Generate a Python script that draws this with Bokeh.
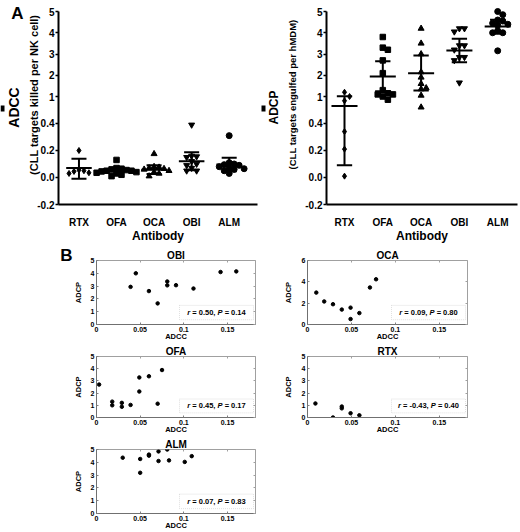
import math
from bokeh.plotting import figure
from bokeh.models import FixedTicker, Label, BoxAnnotation, LinearAxis, Range1d, Spacer
from bokeh.layouts import column, row
from bokeh.embed import file_html
from bokeh.resources import INLINE

FONT = "Liberation Sans"
NB = "\u00a0"

# ---------------- Panel A data ----------------
antibodies = ["RTX", "OFA", "OCA", "OBI", "ALM"]
a_markers = ["diamond", "square", "triangle", "inverted_triangle", "circle"]

adcc_rtx = [0.20, 0.055, 0.035, 0.045, 0.05, 0.03]
adcc_ofa = [0.13, 0.07, 0.065, 0.06, 0.055, 0.05, 0.05, 0.045, 0.04, 0.035, 0.03, 0.02, 0.01]
adcc_oca = [0.175, 0.08, 0.075, 0.07, 0.065, 0.06, 0.05, 0.04, 0.03, 0.01]
adcc_obi = [0.39, 0.16, 0.155, 0.15, 0.12, 0.10, 0.09, 0.07, 0.05, 0.05]
adcc_alm = [0.31, 0.11, 0.10, 0.095, 0.09, 0.08, 0.07, 0.065, 0.06, 0.05, 0.03]
adcc_mean = [0.07, 0.047, 0.057, 0.12, 0.096]
adcc_low = [-0.01, 0.022, 0.025, 0.053, 0.046]
adcc_high = [0.138, 0.072, 0.09, 0.187, 0.146]

adcp_rtx = [1.2, 1.0, 0.8, 0.34, 0.21, 0.01]
adcp_ofa = [3.8, 3.3, 3.2, 2.7, 2.1, 1.3, 1.15, 1.1, 1.1, 1.0, 0.85]
adcp_oca = [4.2, 3.5, 3.0, 2.15, 1.9, 1.6, 1.4, 1.35, 1.05, 0.52]
adcp_obi = [4.2, 4.2, 4.05, 3.4, 3.4, 3.2, 2.85, 2.85, 2.7, 1.65]
adcp_alm = [5.0, 4.85, 4.6, 4.55, 4.45, 4.4, 4.35, 4.1, 4.0, 4.0, 3.15]
adcp_mean = [0.55, 1.94, 2.10, 3.16, 4.29]
adcp_low = [0.09, 1.25, 1.28, 2.61, 3.95]
adcp_high = [1.01, 2.66, 2.93, 3.72, 4.61]

a_ytick_values = [-0.2, 0.0, 0.2, 0.4, 1, 2, 3, 4, 5]
a_ytick_labels = ["-0.2", "0.0", "0.2", "0.4", "1", "2", "3", "4", "5"]

# ---------------- Panel B data ----------------
obi_adcc = [0.039, 0.045, 0.060, 0.070, 0.081, 0.081, 0.091, 0.111, 0.142, 0.160]
obi_adcp = [2.94, 4.00, 2.61, 1.65, 3.36, 3.06, 3.07, 2.81, 4.10, 4.15]
oca_adcc = [0.010, 0.019, 0.029, 0.039, 0.049, 0.049, 0.059, 0.071, 0.078]
oca_adcp = [2.99, 2.16, 1.90, 1.40, 1.58, 0.51, 1.07, 3.47, 4.24]
ofa_adcc = [0.003, 0.018, 0.018, 0.029, 0.029, 0.039, 0.049, 0.049, 0.060, 0.070, 0.075]
ofa_adcp = [2.70, 1.30, 1.00, 1.20, 0.88, 1.03, 3.28, 2.13, 3.38, 1.13, 3.89]
rtx_adcc = [0.009, 0.029, 0.039, 0.039, 0.049, 0.059]
rtx_adcp = [1.15, 0.00, 0.90, 0.75, 0.35, 0.18]
alm_adcc = [0.030, 0.050, 0.050, 0.060, 0.060, 0.071, 0.071, 0.081, 0.083, 0.101, 0.109]
alm_adcp = [4.36, 4.26, 3.18, 4.60, 4.52, 4.85, 4.10, 5.00, 4.15, 4.03, 4.48]

stats_r = {"OBI": "0.50", "OCA": "0.09", "OFA": "0.45", "RTX": "-0.43", "ALM": "0.07"}
stats_p = {"OBI": "0.14", "OCA": "0.80", "OFA": "0.17", "RTX": "0.40", "ALM": "0.83"}

b_xticks = [0, 0.05, 0.1, 0.15]
b_xtick_labels = ["0", "0.05", "0.1", "0.15"]
B_XMAX = 0.182

# broken y axis of panel A: lower segment linear up to BREAK, compressed above
BREAK = 0.525
UPPER = 0.1574


def disp(v):
    return v if v <= BREAK else BREAK + (v - BREAK) * UPPER


def swarm(vals, ypx, xpx, size):
    order = sorted(range(len(vals)), key=lambda i: -vals[i])
    placed = []
    offs = [0.0] * len(vals)
    thr = 0.85 * size
    for i in order:
        y = disp(vals[i]) * ypx
        for k in range(60):
            dx = ((k + 1) // 2) * thr * (1 if k % 2 else -1)
            if all((dx - px) ** 2 + (y - py) ** 2 >= thr ** 2 for px, py in placed):
                break
        placed.append((dx, y))
        offs[i] = dx / xpx
    return offs


def make_label(x, y, text, size, angle=0.0, align="center", baseline="middle", style="bold"):
    return Label(x=x, y=y, text=text, text_font=FONT, text_font_size=f"{size}px",
                 text_font_style=style, angle=angle, text_align=align,
                 text_baseline=baseline, text_color="black")


def add_label(p, *args, where="center", **kw):
    p.add_layout(make_label(*args, **kw), where)


A_H, A_BOTTOM, A_TOP_GAP = 245, 41, 11


def label_fig(W):
    # bare canvas in pixel coordinates (y downward) carrying the texts left of a panel A plot
    fh = A_H - A_BOTTOM
    p = figure(width=W, height=A_H, x_range=Range1d(0, W), y_range=Range1d(fh, 0),
               x_axis_type=None, y_axis_type=None, output_backend="svg", toolbar_location=None,
               min_border_left=0, min_border_right=0, min_border_top=0, min_border_bottom=A_BOTTOM)
    p.outline_line_color = None
    return p


def make_a(groups, mean, low, high, W, frame_left, x_start, sub=None, sub_standoff=0):
    fr = 3
    fw = W - frame_left - fr
    fh = A_H - A_BOTTOM
    cat_px = 38.5
    x_end = x_start + fw / cat_px
    y0, y1 = disp(-0.2), disp(5)
    ypx = (fh - A_TOP_GAP) / (y1 - y0)
    p = figure(width=W, height=A_H, x_range=Range1d(x_start, x_end),
               y_range=Range1d(y0, y1 + A_TOP_GAP / ypx),
               output_backend="svg", toolbar_location=None,
               min_border_left=frame_left, min_border_right=fr, min_border_top=0,
               min_border_bottom=A_BOTTOM)
    p.outline_line_color = None
    p.grid.visible = False

    for i, vals in enumerate(groups):
        offs = swarm(vals, ypx, cat_px, 6)
        p.scatter(x=[i + o for o in offs], y=[disp(v) for v in vals], marker=a_markers[i],
                  size=6 if a_markers[i] != "square" else 5.5, color="black")
    idx = list(range(len(groups)))
    p.segment(x0=idx, y0=[disp(v) for v in low], x1=idx, y1=[disp(v) for v in high],
              line_width=2, line_color="black")
    for arr, hw in ((low, 0.2), (high, 0.2), (mean, 0.34)):
        p.segment(x0=[i - hw for i in idx], y0=[disp(v) for v in arr],
                  x1=[i + hw for i in idx], y1=[disp(v) for v in arr],
                  line_width=2, line_color="black")

    ya = p.yaxis[0]
    ticks = [round(disp(t), 6) for t in a_ytick_values]
    ya.ticker = FixedTicker(ticks=ticks)
    ya.bounds = (y0, y1)
    ya.major_label_overrides = {t: l for t, l in zip(ticks, a_ytick_labels)}
    ya.minor_tick_line_color = None
    ya.major_tick_out = 3
    ya.major_tick_in = 0
    ya.major_tick_line_width = 1.5
    ya.axis_line_width = 2
    ya.major_label_standoff = 1
    ya.major_label_text_font = FONT
    ya.major_label_text_font_style = "bold"
    ya.major_label_text_font_size = "10px"
    ya.major_label_text_color = "black"
    if sub:
        ya.axis_label = sub
        ya.axis_label_text_font = FONT
        ya.axis_label_text_font_style = "bold"
        ya.axis_label_text_font_size = "11px"
        ya.axis_label_text_color = "black"
        ya.axis_label_standoff = sub_standoff

    xa = p.xaxis[0]
    xa.ticker = FixedTicker(ticks=idx)
    xa.major_label_overrides = {i: n for i, n in enumerate(antibodies)}
    xa.minor_tick_line_color = None
    xa.major_tick_line_color = None
    xa.major_tick_out = 0
    xa.axis_line_width = 2
    xa.major_label_standoff = 12
    xa.major_label_text_font = FONT
    xa.major_label_text_font_style = "bold"
    xa.major_label_text_font_size = "10px"
    xa.major_label_text_color = "black"
    xa.axis_label = "Antibody"
    xa.axis_label_text_font = FONT
    xa.axis_label_text_font_style = "bold"
    xa.axis_label_text_font_size = "12px"
    xa.axis_label_text_color = "black"
    xa.axis_label_standoff = -2
    return p


CW = {' ': 0.278, NB: 0.278, '=': 0.584, '.': 0.278, ',': 0.278, '-': 0.333, 'r': 0.389, 'P': 0.667}
for d in "0123456789":
    CW[d] = 0.556


def tw(s, fs):
    return sum(CW[c] for c in s) * fs


def make_b(name, xs, ys, ymax, yticks, frame_left, right_border, H, top, bottom, ylab_standoff,
           letter=None):
    W = 260
    fw = W - frame_left - right_border
    fh = H - top - bottom
    p = figure(width=W, height=H, x_range=Range1d(0, B_XMAX), y_range=Range1d(0, ymax),
               output_backend="svg", toolbar_location=None,
               min_border_left=frame_left, min_border_right=right_border,
               min_border_top=top, min_border_bottom=bottom)
    p.grid.visible = False
    p.outline_line_color = "#a0a0a0"
    p.title.text = name
    p.title.align = "center"
    p.title.text_font = FONT
    p.title.text_font_style = "bold"
    p.title.text_font_size = "10px"
    p.title.text_color = "black"
    p.title.standoff = 0
    p.title.offset = 0
    xpx = fw / B_XMAX
    ypx = fh / ymax

    def xd(px):
        return (px - frame_left) / xpx

    def yd(py):
        return ymax - (py - top) / ypx

    p.scatter(x=xs, y=ys, size=3.5, color="black")

    for ax, tk in ((p.xaxis[0], b_xticks), (p.yaxis[0], yticks)):
        ax.ticker = FixedTicker(ticks=tk)
        ax.minor_tick_line_color = None
        ax.major_tick_in = 2
        ax.major_tick_out = 0
        ax.major_tick_line_color = "#808080"
        ax.axis_line_color = "#707070"
        ax.major_label_standoff = 2
        ax.major_label_text_font = FONT
        ax.major_label_text_font_style = "bold"
        ax.major_label_text_font_size = "7px"
        ax.major_label_text_color = "black"
        ax.axis_label_text_font = FONT
        ax.axis_label_text_font_style = "bold"
        ax.axis_label_text_font_size = "7.5px"
        ax.axis_label_text_color = "black"
    p.xaxis[0].major_label_overrides = {t: l for t, l in zip(b_xticks, b_xtick_labels)}
    p.xaxis[0].axis_label = "ADCC"
    p.xaxis[0].axis_label_standoff = -3
    p.yaxis[0].axis_label = "ADCP"
    p.yaxis[0].axis_label_standoff = ylab_standoff

    for loc, tk in (("above", b_xticks), ("right", yticks)):
        ax = LinearAxis(ticker=FixedTicker(ticks=tk), major_label_text_font_size="1px",
                        major_label_overrides={t: "" for t in tk},
                        major_label_standoff=0, major_tick_in=2, major_tick_out=0,
                        major_tick_line_color="#a0a0a0", minor_tick_line_color=None,
                        axis_line_color=None)
        p.add_layout(ax, loc)

    if letter:
        # placed in the left side panel, where annotations are not clipped to the frame
        add_label(p, xd(66), yd(top - 5), letter, 17, where="left")

    # statistics box
    bw, bh = 74, 15
    br = frame_left + fw - 2
    bb = top + fh - 5
    p.add_layout(BoxAnnotation(left=xd(br - bw), right=xd(br), bottom=yd(bb), top=yd(bb - bh),
                               fill_color=None, line_color="#999999", line_dash="1 1", line_width=1))
    fs = 7.5
    pieces = [("r", "bold italic"), (NB + "=" + NB + stats_r[name] + "," + NB, "bold"),
              ("P", "bold italic"), (NB + "=" + NB + stats_p[name], "bold")]
    total = sum(tw(s, fs) for s, _ in pieces)
    x = br - bw / 2 - total / 2
    ymid = bb - bh / 2
    for s, st in pieces:
        add_label(p, xd(x), yd(ymid), s, fs, align="left", style=st)
        x += tw(s, fs)
    return p


# ---- panel A ----
la1 = label_fig(25)
add_label(la1, 17, 13, "A", 17)
add_label(la1, 13, 107, "ADCC", 14, angle=math.pi / 2)
la1.add_layout(BoxAnnotation(left=0, right=4, top=105, bottom=111, fill_color="black",
                             fill_alpha=1.0, line_color=None))
pa1 = make_a([adcc_rtx, adcc_ofa, adcc_oca, adcc_obi, adcc_alm], adcc_mean, adcc_low, adcc_high,
             235, 28, -0.545, sub=NB * 5 + "(CLL targets killed per NK cell)", sub_standoff=-6)

la2 = label_fig(42)
add_label(la2, 13, 107, "ADCP", 12, angle=math.pi / 2)
add_label(la2, 32, 94, "(CLL targets engulfed per hMDM)", 9.5, angle=math.pi / 2)
la2.add_layout(BoxAnnotation(left=1, right=5, top=105, bottom=111, fill_color="black",
                             fill_alpha=1.0, line_color=None))
pa2 = make_a([adcp_rtx, adcp_ofa, adcp_oca, adcp_obi, adcp_alm], adcp_mean, adcp_low, adcp_high,
             218, 23, -0.47)

# ---- panel B ----
b_obi = make_b("OBI", obi_adcc, obi_adcp, 5, [0, 1, 2, 3, 4, 5], 96, 5, 98, 15, 16, 5, letter="B")
b_oca = make_b("OCA", oca_adcc, oca_adcp, 6, [0, 2, 4, 6], 47, 53, 98, 15, 16, 6)
b_ofa = make_b("OFA", ofa_adcc, ofa_adcp, 5, [0, 1, 2, 3, 4, 5], 96, 5, 93, 12, 15, 5)
b_rtx = make_b("RTX", rtx_adcc, rtx_adcp, 5, [0, 1, 2, 3, 4, 5], 47, 53, 93, 12, 15, 6)
b_alm = make_b("ALM", alm_adcc, alm_adcp, 5, [0, 1, 2, 3, 4, 5], 96, 5, 96, 12, 18, 5)

layout = column(row(la1, pa1, la2, pa2), row(b_obi, b_oca), row(b_ofa, b_rtx),
                row(b_alm, Spacer(width=260, height=96)))

with open("out.html", "w") as f:
    f.write(file_html(layout, INLINE))
